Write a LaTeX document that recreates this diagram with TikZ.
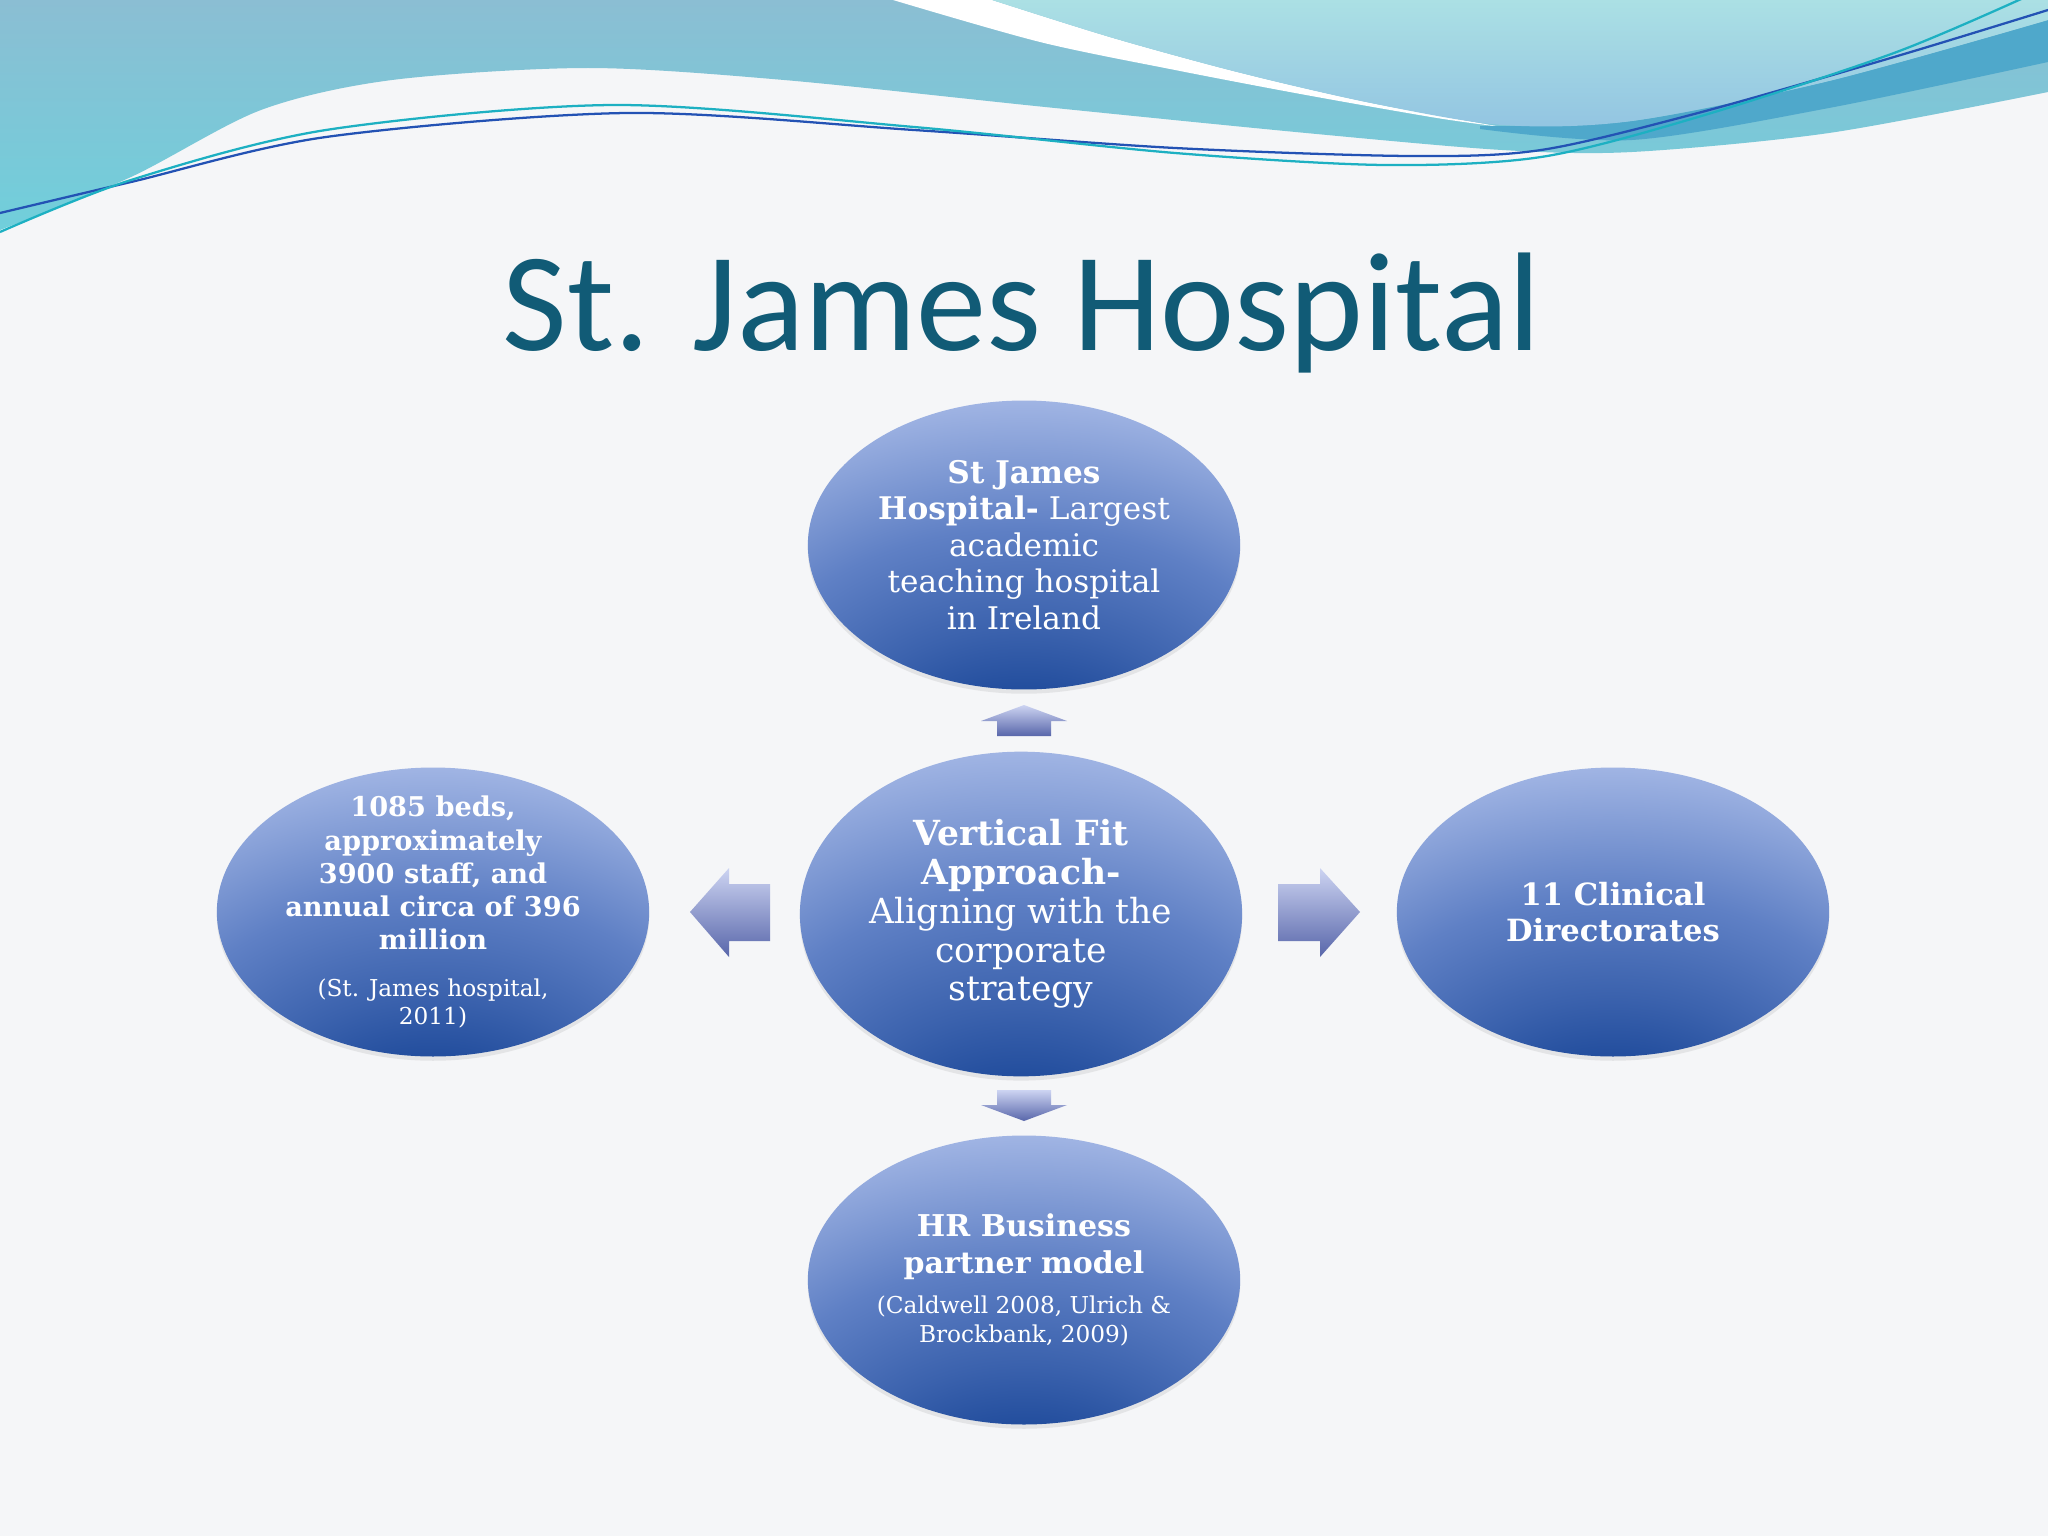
\documentclass[tikz,border=0pt]{standalone}
\usepackage{fontspec}
\setmainfont{DejaVu Serif}
\newfontfamily\titlefont{Carlito}
\usepackage{tikz}
\usetikzlibrary{
	shapes,shadows
}

\definecolor{bgpaper}{HTML}{F5F6F8}
\definecolor{orblt}{HTML}{B0C1EB}
\definecolor{orbmd}{HTML}{5F80C5}
\definecolor{orbdk}{HTML}{05358A}
\definecolor{arrlt}{HTML}{CDD4F2}
\definecolor{arrdk}{HTML}{5866AA}
\definecolor{titleteal}{HTML}{115B76}
\definecolor{wavea}{HTML}{8BBED3}
\definecolor{waveab}{HTML}{70CFDB}
\definecolor{waveb}{HTML}{ABE0E4}
\definecolor{wavebb}{HTML}{93C5E2}
\definecolor{wavec}{HTML}{4FA8CB}
\definecolor{lineteal}{HTML}{1DB0C2}
\definecolor{lineblue}{HTML}{2352B4}

\pgfdeclareradialshading{orbshade}{\pgfpoint{0bp}{-45bp}}{%
	color(0bp)=(orbdk); color(9bp)=(orbdk!85!orbmd); color(21bp)=(orbdk!40!orbmd);
	color(33bp)=(orbmd); color(52bp)=(orblt); color(100bp)=(orblt)}

\begin{document}
\begin{tikzpicture}[x=0.0124023cm,y=-0.0124023cm,
		orb/.style={ellipse,shade,shading=orbshade,text=white,align=center,inner sep=-6pt,
			minimum width=152.6pt,minimum height=102pt,
			drop shadow={opacity=.15,shadow xshift=0pt,shadow yshift=-1.5pt}},
		arrowfill/.style={top color=arrlt,bottom color=arrdk}]
		\fill[bgpaper] (0,0) rectangle (2048,1536);
		\useasboundingbox (0,0) rectangle (2048,1536);
		
		% waves at the top
		\begin{scope}
		\clip (0,0) rectangle (2048,1536);
		\shade[top color=wavea,bottom color=waveab] (0,0) -- (2048,0)
			-- plot[smooth] coordinates {(2048,92) (1829,133) (1632,152) (1502,150) (1306,133)
				(1045,107) (784,80) (588,68) (392,80) (261,110) (131,177) (0,230)} -- cycle;
		\fill[white] plot[smooth] coordinates {(893,0) (1040,42) (1175,70) (1306,95) (1437,118) (1502,127)}
			-- plot[smooth] coordinates {(1502,127) (1371,103) (1241,73) (1113,38) (992,0)} -- cycle;
		\fill[wavec] plot[smooth] coordinates {(1480,126) (1632,121) (1829,81) (2048,20)}
			-- plot[smooth] coordinates {(2048,62) (1829,108) (1632,140) (1480,129)} -- cycle;
		\shade[top color=waveb,bottom color=wavebb] plot[smooth] coordinates {(992,0) (1113,38) (1241,73)
				(1371,103) (1502,125) (1632,121) (1829,81) (2048,20)} -- (2048,0) -- cycle;
		\draw[lineblue,line width=.8pt] plot[smooth] coordinates {(0,213) (131,182) (326,137) (627,113)
			(914,130) (1175,148) (1410,156) (1541,150) (1698,113) (1894,57) (2048,10)};
		\draw[lineteal,line width=.8pt] plot[smooth] coordinates {(0,232) (131,180) (326,130) (614,105)
			(914,127) (1175,153) (1384,165) (1541,157) (1698,117) (1894,53) (2030,-5)};
		\end{scope}
		
		\node[font=\titlefont\fontsize{49.6}{60}\selectfont,text=titleteal,anchor=base] (title)
			at (1022,350) {St. James Hospital};
		
		\node[orb,font=\fontsize{11}{12.9}\selectfont] (hosp) at (1024,545)
			{\textbf{St James}\\ \textbf{Hospital-} Largest\\ academic\\ teaching hospital\\ in Ireland};
		\node[orb,minimum width=156.1pt,minimum height=114.6pt,font=\fontsize{12.2}{13.7}\selectfont]
			(fit) at (1021,914)
			{\textbf{Vertical Fit}\\ \textbf{Approach-}\\ Aligning with the\\ corporate\\ strategy};
		\node[orb,font=\bfseries\fontsize{9.6}{11.7}\selectfont] (beds) at (433,912)
			{1085 beds,\\ approximately\\ 3900 staff, and\\ annual circa of 396\\ million\\[5pt]
			{\mdseries\fontsize{8.2}{9.6}\selectfont (St. James hospital,}\\[-2.1pt]
			{\mdseries\fontsize{8.2}{9.6}\selectfont 2011)}};
		\node[orb,font=\bfseries\fontsize{10.8}{12.9}\selectfont] (dirs) at (1613,912)
			{11 Clinical\\ Directorates};
		\node[orb,font=\bfseries\fontsize{10.6}{12.9}\selectfont] (hrbp) at (1024,1280)
			{HR Business\\ partner model\\[1.5pt]
			{\mdseries\fontsize{8.2}{9.6}\selectfont (Caldwell 2008, Ulrich \&}\\[-2.8pt]
			{\mdseries\fontsize{8.2}{9.6}\selectfont Brockbank, 2009)}};
		
		% block arrows out of the centre
		\coordinate (toup) at (1024,721);
		\coordinate (todown) at (1024,1105);
		\coordinate (toleft) at (729,912);
		\coordinate (toright) at (1320,912);
		\shade[arrowfill] (toup) ++(-27,15) -- ++(0,-15) -- ++(-16,0) -- ++(43,-16)
			-- ++(43,16) -- ++(-16,0) -- ++(0,15) -- cycle;
		\shade[arrowfill] (todown) ++(-27,-15) -- ++(0,15) -- ++(-16,0) -- ++(43,16)
			-- ++(43,-16) -- ++(-16,0) -- ++(0,-15) -- cycle;
		\shade[arrowfill] (toleft) ++(41,-28) -- ++(-41,0) -- ++(0,-16) -- ++(-39,44)
			-- ++(39,45) -- ++(0,-16) -- ++(41,0) -- cycle;
		\shade[arrowfill] (toright) ++(-42,-28) -- ++(42,0) -- ++(0,-16) -- ++(40,44)
			-- ++(-40,45) -- ++(0,-16) -- ++(-42,0) -- cycle;
	\end{tikzpicture}
\end{document}
